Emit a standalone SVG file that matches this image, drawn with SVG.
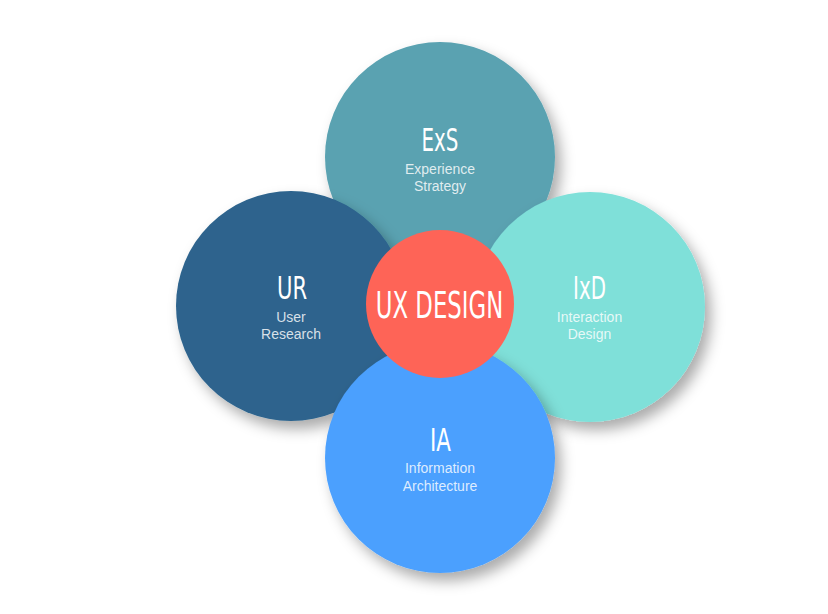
<svg xmlns="http://www.w3.org/2000/svg" width="828" height="614" viewBox="0 0 828 614">
  <defs>
    <filter id="shadow" x="-30%" y="-30%" width="170%" height="170%">
      <feDropShadow dx="6" dy="8" stdDeviation="7" flood-color="#000" flood-opacity="0.33"/>
    </filter>
    <style>
      .title { font-family: "DejaVu Sans", sans-serif; fill: #ffffff; text-anchor: middle; font-size: 32px; }
      .center { font-size: 38px; }
      .sub { font-family: "Liberation Sans", Arial, sans-serif; font-size: 14px; fill: #ffffff; fill-opacity: 0.82; text-anchor: middle; }
    </style>
  </defs>
  <rect width="828" height="614" fill="#ffffff"/>

  <g id="node-exs">
    <circle cx="440" cy="157" r="115" fill="#5AA2B1" filter="url(#shadow)"/>
    <text class="title" x="0" y="0" transform="translate(440,151) scale(0.62,1)">ExS</text>
    <text class="sub" x="440" y="174">Experience</text>
    <text class="sub" x="440" y="191">Strategy</text>
  </g>

  <g id="node-ur">
    <circle cx="291" cy="306" r="115" fill="#2D648D" filter="url(#shadow)"/>
    <text class="title" x="0" y="0" transform="translate(292,299) scale(0.66,1)">UR</text>
    <text class="sub" x="291" y="322">User</text>
    <text class="sub" x="291" y="339">Research</text>
  </g>

  <g id="node-ixd">
    <circle cx="590" cy="307" r="115" fill="#7FE0D9" filter="url(#shadow)"/>
    <text class="title" x="0" y="0" transform="translate(589.5,299) scale(0.62,1)">IxD</text>
    <text class="sub" x="589.5" y="322">Interaction</text>
    <text class="sub" x="589.5" y="339">Design</text>
  </g>

  <g id="node-ia">
    <circle cx="440" cy="458" r="115" fill="#4BA0FE" filter="url(#shadow)"/>
    <text class="title" x="0" y="0" transform="translate(440.5,451) scale(0.67,1)">IA</text>
    <text class="sub" x="440" y="473">Information</text>
    <text class="sub" x="440" y="491">Architecture</text>
  </g>

  <g id="node-ux">
    <circle cx="440" cy="304" r="74" fill="#FE6457"/>
    <text class="title center" x="0" y="0" transform="translate(439.5,318) scale(0.6,1)">UX DESIGN</text>
  </g>

  <g id="connectors"></g>
</svg>
